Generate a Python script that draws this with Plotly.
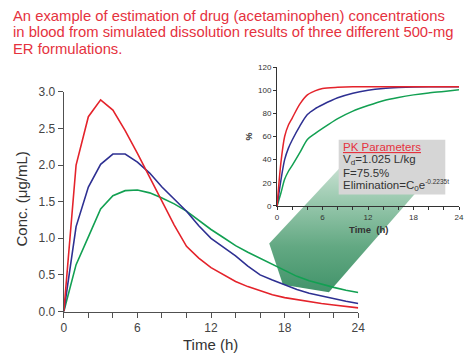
import base64
import plotly.graph_objects as go

# the page keeps an 8px body margin inside the 474x363 window -> figure fills the rest
PAGE_W, PAGE_H, OFF = 474, 363, 8
W, H = PAGE_W - 2 * OFF, PAGE_H - 2 * OFF

# ---------------- data ----------------
hours = list(range(0, 25))
conc_red = [0, 2.00, 2.66, 2.89, 2.75, 2.47, 2.16, 1.84, 1.52, 1.18, 0.89, 0.73, 0.60,
            0.50, 0.41, 0.34, 0.28, 0.23, 0.19, 0.16, 0.135, 0.11, 0.09, 0.07, 0.05]
conc_blue = [0, 1.16, 1.70, 2.01, 2.15, 2.15, 2.04, 1.89, 1.70, 1.53, 1.37, 1.17, 1.00,
             0.88, 0.76, 0.62, 0.50, 0.43, 0.36, 0.30, 0.25, 0.21, 0.17, 0.14, 0.11]
conc_green = [0, 0.64, 1.02, 1.40, 1.58, 1.65, 1.66, 1.62, 1.55, 1.47, 1.37, 1.24, 1.12,
              1.01, 0.90, 0.81, 0.73, 0.65, 0.57, 0.48, 0.42, 0.37, 0.33, 0.29, 0.26]

diss_time = [0, 0.5, 1, 1.5, 2, 3, 4, 5, 6, 8, 10, 12, 14, 16, 18, 20, 22, 24]
diss_red = [0, 37, 60, 70, 76, 88, 96, 99.5, 101.5, 102.5, 103, 103, 103, 103, 103, 103, 103, 103]
diss_blue = [0, 22, 40, 50, 57, 69, 79, 84, 87.5, 93.5, 97.5, 100, 101.5, 102.3, 102.8, 103, 103, 103]
diss_green = [0, 11, 23, 30, 35, 46, 57.5, 62.5, 67, 75.5, 82, 86.8, 91, 93.8, 96, 97.7, 99, 100.5]

main_yticks = [0, 0.5, 1.0, 1.5, 2.0, 2.5, 3.0]
inset_yticks = [0, 20, 40, 60, 80, 100, 120]

title_lines = [
    "An example of estimation of drug (acetaminophen) concentrations",
    "in blood from simulated dissolution results of three different 500-mg",
    "ER formulations.",
]
pk_lines = [
    "<u>PK Parameters</u>",
    "V<sub>d</sub>=1.025 L/kg",
    "F=75.5%",
    "Elimination=C<sub>0</sub>e<sup><span style='font-size:6.5px'>-0.2235t</span></sup>",
]

RED, BLUE, GREEN = "#e4232b", "#2e3092", "#12a052"
AX = "#505050"
FONT = "Liberation Sans, Arial, sans-serif"


def X(px):
    return min(max((px - OFF) / W, 0.0), 1.0)


def Y(py):
    return min(max(1 - (py - OFF) / H, 0.0), 1.0)


fig = go.Figure()
for vals, col in [(conc_green, GREEN), (conc_blue, BLUE), (conc_red, RED)]:
    fig.add_trace(go.Scatter(x=hours, y=vals, mode="lines", line=dict(color=col, width=1.6),
                             xaxis="x", yaxis="y", showlegend=False, hoverinfo="skip"))
for vals, col in [(diss_green, GREEN), (diss_blue, BLUE), (diss_red, RED)]:
    fig.add_trace(go.Scatter(x=diss_time, y=vals, mode="lines",
                             line=dict(color=col, width=1.5, shape="spline", smoothing=0.8),
                             xaxis="x2", yaxis="y2", showlegend=False, hoverinfo="skip"))

# decorative gradient arrow (svg image in page pixel coords, below everything)
svg = (
    f"<svg xmlns='http://www.w3.org/2000/svg' width='{W}' height='{H}' "
    f"viewBox='{OFF} {OFF} {W} {H}' preserveAspectRatio='none'>"
    "<defs><linearGradient id='g' x1='0' y1='150' x2='0' y2='297' gradientUnits='userSpaceOnUse'>"
    "<stop offset='0' stop-color='#dcebe1'/><stop offset='0.34' stop-color='#9ccab0'/>"
    "<stop offset='0.68' stop-color='#62a882'/><stop offset='1' stop-color='#42936a'/>"
    "</linearGradient></defs>"
    "<polygon points='272,246 286,289 333,297 440,172 360,150' fill='url(#g)'/></svg>"
)
src = "data:image/svg+xml;base64," + base64.b64encode(svg.encode()).decode()

annotations = []
for line, yc in zip(title_lines, [8.8, 25.5, 43.2]):
    annotations.append(dict(text=line, x=X(6), y=Y(yc), xref="paper", yref="paper",
                            xanchor="left", yanchor="middle", showarrow=False,
                            font=dict(family=FONT, size=14.8, color="#e5323e")))
for line, yc, col in zip(pk_lines, [145.5, 159.5, 172.5, 186],
                         ["#e5323e", "#333", "#333", "#333"]):
    annotations.append(dict(text=line, x=X(345.5), y=Y(yc), xref="paper", yref="paper",
                            xanchor="left", yanchor="middle", showarrow=False,
                            font=dict(family=FONT, size=11.5, color=col)))
annotations += [
    dict(text="Time (h)", x=X(212), y=Y(351), xref="paper", yref="paper", showarrow=False,
         xanchor="center", yanchor="middle", font=dict(family=FONT, size=15, color="#333")),
    dict(text="Conc. (μg/mL)", x=X(18.5), y=Y(200), xref="paper", yref="paper", showarrow=False,
         xanchor="center", yanchor="middle", textangle=-90,
         font=dict(family=FONT, size=15, color="#333")),
    dict(text="<b>Time  (h)</b>", x=X(373), y=Y(232), xref="paper", yref="paper", showarrow=False,
         xanchor="center", yanchor="middle", font=dict(family=FONT, size=9.5, color="#333")),
    dict(text="<b>%</b>", x=X(251), y=Y(135), xref="paper", yref="paper", showarrow=False,
         xanchor="center", yanchor="middle", textangle=-90,
         font=dict(family=FONT, size=9, color="#333")),
]

axis_common = dict(showgrid=False, zeroline=False, showline=True, ticks="outside", mirror=False)

fig.update_layout(
    width=W, height=H, margin=dict(l=0, r=0, t=0, b=0),
    paper_bgcolor="white", plot_bgcolor="rgba(0,0,0,0)",
    font=dict(family=FONT, color="#444"),
    xaxis=dict(domain=[X(62), X(363)], range=[0, 24], tick0=0, dtick=6,
               minor=dict(tick0=0, dtick=2, ticks="outside", ticklen=5, tickwidth=1.2, tickcolor=AX),
               linecolor=AX, linewidth=1.4, tickcolor=AX, ticklen=5, tickwidth=1.2,
               tickfont=dict(size=12, color="#444"), anchor="y", **axis_common),
    yaxis=dict(domain=[Y(317), Y(88)], range=[0, 3], tickvals=main_yticks, tickformat=".1f",
               linecolor=AX, linewidth=1.4, tickcolor=AX, ticklen=5, tickwidth=1.2,
               tickfont=dict(size=12, color="#444"), anchor="x", **axis_common),
    xaxis2=dict(domain=[X(280), X(466)], range=[0, 24], tick0=0, dtick=6,
                minor=dict(tick0=0, dtick=2, ticks="outside", ticklen=3, tickwidth=1, tickcolor="#333"),
                linecolor="#333", linewidth=1, tickcolor="#333", ticklen=3, tickwidth=1,
                tickfont=dict(size=8, color="#333"), anchor="y2", **axis_common),
    yaxis2=dict(domain=[Y(207), Y(62.3)], range=[0, 120], tickvals=inset_yticks,
                linecolor="#333", linewidth=1, tickcolor="#333", ticklen=3, tickwidth=1,
                tickfont=dict(size=8, color="#333"), anchor="x2", **axis_common),
    images=[dict(source=src, xref="paper", yref="paper", x=0, y=1, sizex=1, sizey=1,
                 xanchor="left", yanchor="top", sizing="stretch", layer="below")],
    shapes=[dict(type="rect", xref="paper", yref="paper", x0=X(343), x1=X(452), y0=Y(195), y1=Y(138),
                 fillcolor="#d6d6d6", line=dict(width=0), layer="above")],
    annotations=annotations,
)

fig.write_html("out.html")
